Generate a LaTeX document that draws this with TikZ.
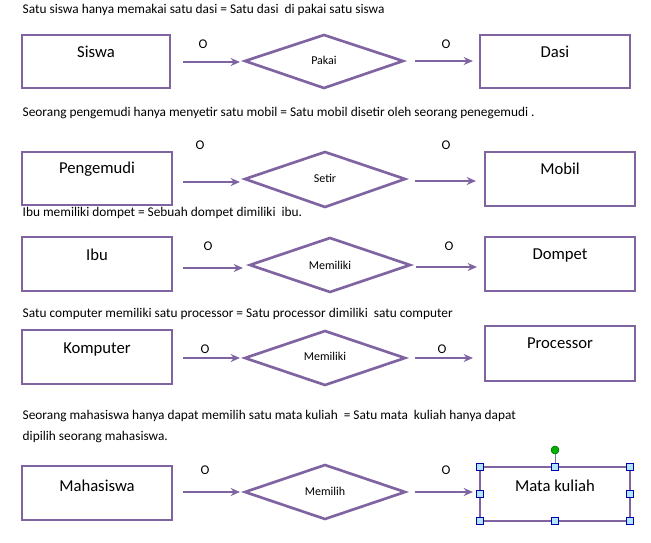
\documentclass[tikz,border=0pt]{standalone}
\usepackage{fontspec}
\setmainfont{Carlito}
\usetikzlibrary{shapes.geometric,arrows.meta}
\definecolor{pur}{RGB}{128,100,162}
\tikzset{x=0.75pt,y=-0.75pt,
 ent/.style={draw=pur,line width=2pt,rectangle,inner sep=0pt},
 rel/.style={draw=pur,line width=2pt},
 etxt/.style={font=\fontsize{12.5}{14}\selectfont,anchor=center},
 rtxt/.style={font=\fontsize{9}{11}\selectfont,anchor=center},
 sent/.style={font=\fontsize{10}{12}\selectfont,anchor=west},
 otxt/.style={font=\fontsize{10}{12}\selectfont},
 conn/.style={draw=pur,line width=1.6pt,-{Stealth[length=7pt,width=6pt]}},
 hnd/.style={draw=blue!70!black,fill=cyan!30,minimum size=5pt,inner sep=0pt,rectangle}}
\begin{document}
\begin{tikzpicture}
\useasboundingbox (0,0) rectangle (651,543);
% row 1
\node[sent] (s1) at (18,10) {Satu siswa hanya memakai satu dasi = Satu dasi\ \ di pakai satu siswa};
\draw[ent] (22,35) rectangle (170,88); \node[etxt] (t1a) at (96,52) {Siswa};
\draw[rel] (245,61) -- (324,35) -- (403,61) -- (324,88) -- cycle; \node[rtxt] (t1b) at (324,60) {Pakai};
\draw[ent] (480,35) rectangle (630,88); \node[etxt] (t1c) at (555,52) {Dasi};
\coordinate (a1) at (183,62); \coordinate (a2) at (240,62); \draw[conn] (a1) -- (a2);
\coordinate (a3) at (415,61); \coordinate (a4) at (473,61); \draw[conn] (a3) -- (a4);
\node[otxt] (o1) at (203,44) {O}; \node[otxt] (o2) at (446,44) {O};
% row 2
\node[sent] (s2) at (18,113) {Seorang pengemudi hanya menyetir satu mobil = Satu mobil disetir oleh seorang penegemudi .};
\draw[ent] (22,152) rectangle (172,205); \node[etxt] (t2a) at (97,169) {Pengemudi};
\draw[rel] (245,179) -- (325,152) -- (405,179) -- (325,207) -- cycle; \node[rtxt] (t2b) at (325,178) {Setir};
\draw[ent] (485,152) rectangle (635,206); \node[etxt] (t2c) at (560,169) {Mobil};
\coordinate (b1) at (183,182); \coordinate (b2) at (240,182); \draw[conn] (b1) -- (b2);
\coordinate (b3) at (415,181); \coordinate (b4) at (476,181); \draw[conn] (b3) -- (b4);
\node[otxt] (o3) at (200,145) {O}; \node[otxt] (o4) at (446,145) {O};
% row 3
\node[sent] (s3) at (18,213) {Ibu memiliki dompet = Sebuah dompet dimiliki\ \ ibu.};
\draw[ent] (22,237) rectangle (172,291); \node[etxt] (t3a) at (97,255) {Ibu};
\draw[rel] (250,265) -- (330,238) -- (410,265) -- (330,292) -- cycle; \node[rtxt] (t3b) at (330,265) {Memiliki};
\draw[ent] (485,237) rectangle (635,291); \node[etxt] (t3c) at (560,255) {Dompet};
\coordinate (c1) at (183,268); \coordinate (c2) at (243,268); \draw[conn] (c1) -- (c2);
\coordinate (c3) at (416,267); \coordinate (c4) at (477,267); \draw[conn] (c3) -- (c4);
\node[otxt] (o5) at (208,246) {O}; \node[otxt] (o6) at (449,246) {O};
% row 4
\node[sent] (s4) at (18,314) {Satu computer memiliki satu processor = Satu processor dimiliki\ \ satu computer};
\draw[ent] (22,330) rectangle (172,384); \node[etxt] (t4a) at (97,349) {Komputer};
\draw[rel] (245,358) -- (325,331) -- (405,358) -- (325,385) -- cycle; \node[rtxt] (t4b) at (325,356) {Memiliki};
\draw[ent] (485,326) rectangle (635,381); \node[etxt] (t4c) at (560,343) {Processor};
\coordinate (d1) at (183,358); \coordinate (d2) at (240,358); \draw[conn] (d1) -- (d2);
\coordinate (d3) at (415,358); \coordinate (d4) at (473,358); \draw[conn] (d3) -- (d4);
\node[otxt] (o7) at (205,349) {O}; \node[otxt] (o8) at (442,349) {O};
% row 5
\node[sent] (s5) at (18,416) {Seorang mahasiswa hanya dapat memilih satu mata kuliah\ \ = Satu mata\ \ kuliah hanya dapat};
\node[sent] (s6) at (18,437) {dipilih seorang mahasiswa.};
\draw[ent] (22,466) rectangle (172,520); \node[etxt] (t5a) at (97,486) {Mahasiswa};
\draw[rel] (245,492) -- (325,465) -- (405,492) -- (325,519) -- cycle; \node[rtxt] (t5b) at (325,491) {Memilih};
\draw[ent] (480,467) rectangle (630,521); \node[etxt] (t5c) at (555,486) {Mata kuliah};
\coordinate (e1) at (183,492); \coordinate (e2) at (240,492); \draw[conn] (e1) -- (e2);
\coordinate (e3) at (415,492); \coordinate (e4) at (473,492); \draw[conn] (e3) -- (e4);
\node[otxt] (o9) at (205,470) {O}; \node[otxt] (o10) at (446,470) {O};
% selection handles
\coordinate (g0) at (555,467);
\node[circle,fill=green!70!black,draw=green!40!black,minimum size=6pt,inner sep=0pt] (g) at (555,450) {};
\draw[gray] (g) -- (g0);
\foreach \p [count=\i] in {(480,467),(555,467),(630,467),(480,494),(630,494),(480,521),(555,521),(630,521)}
  \node[hnd] (h\i) at \p {};
\end{tikzpicture}
\end{document}
